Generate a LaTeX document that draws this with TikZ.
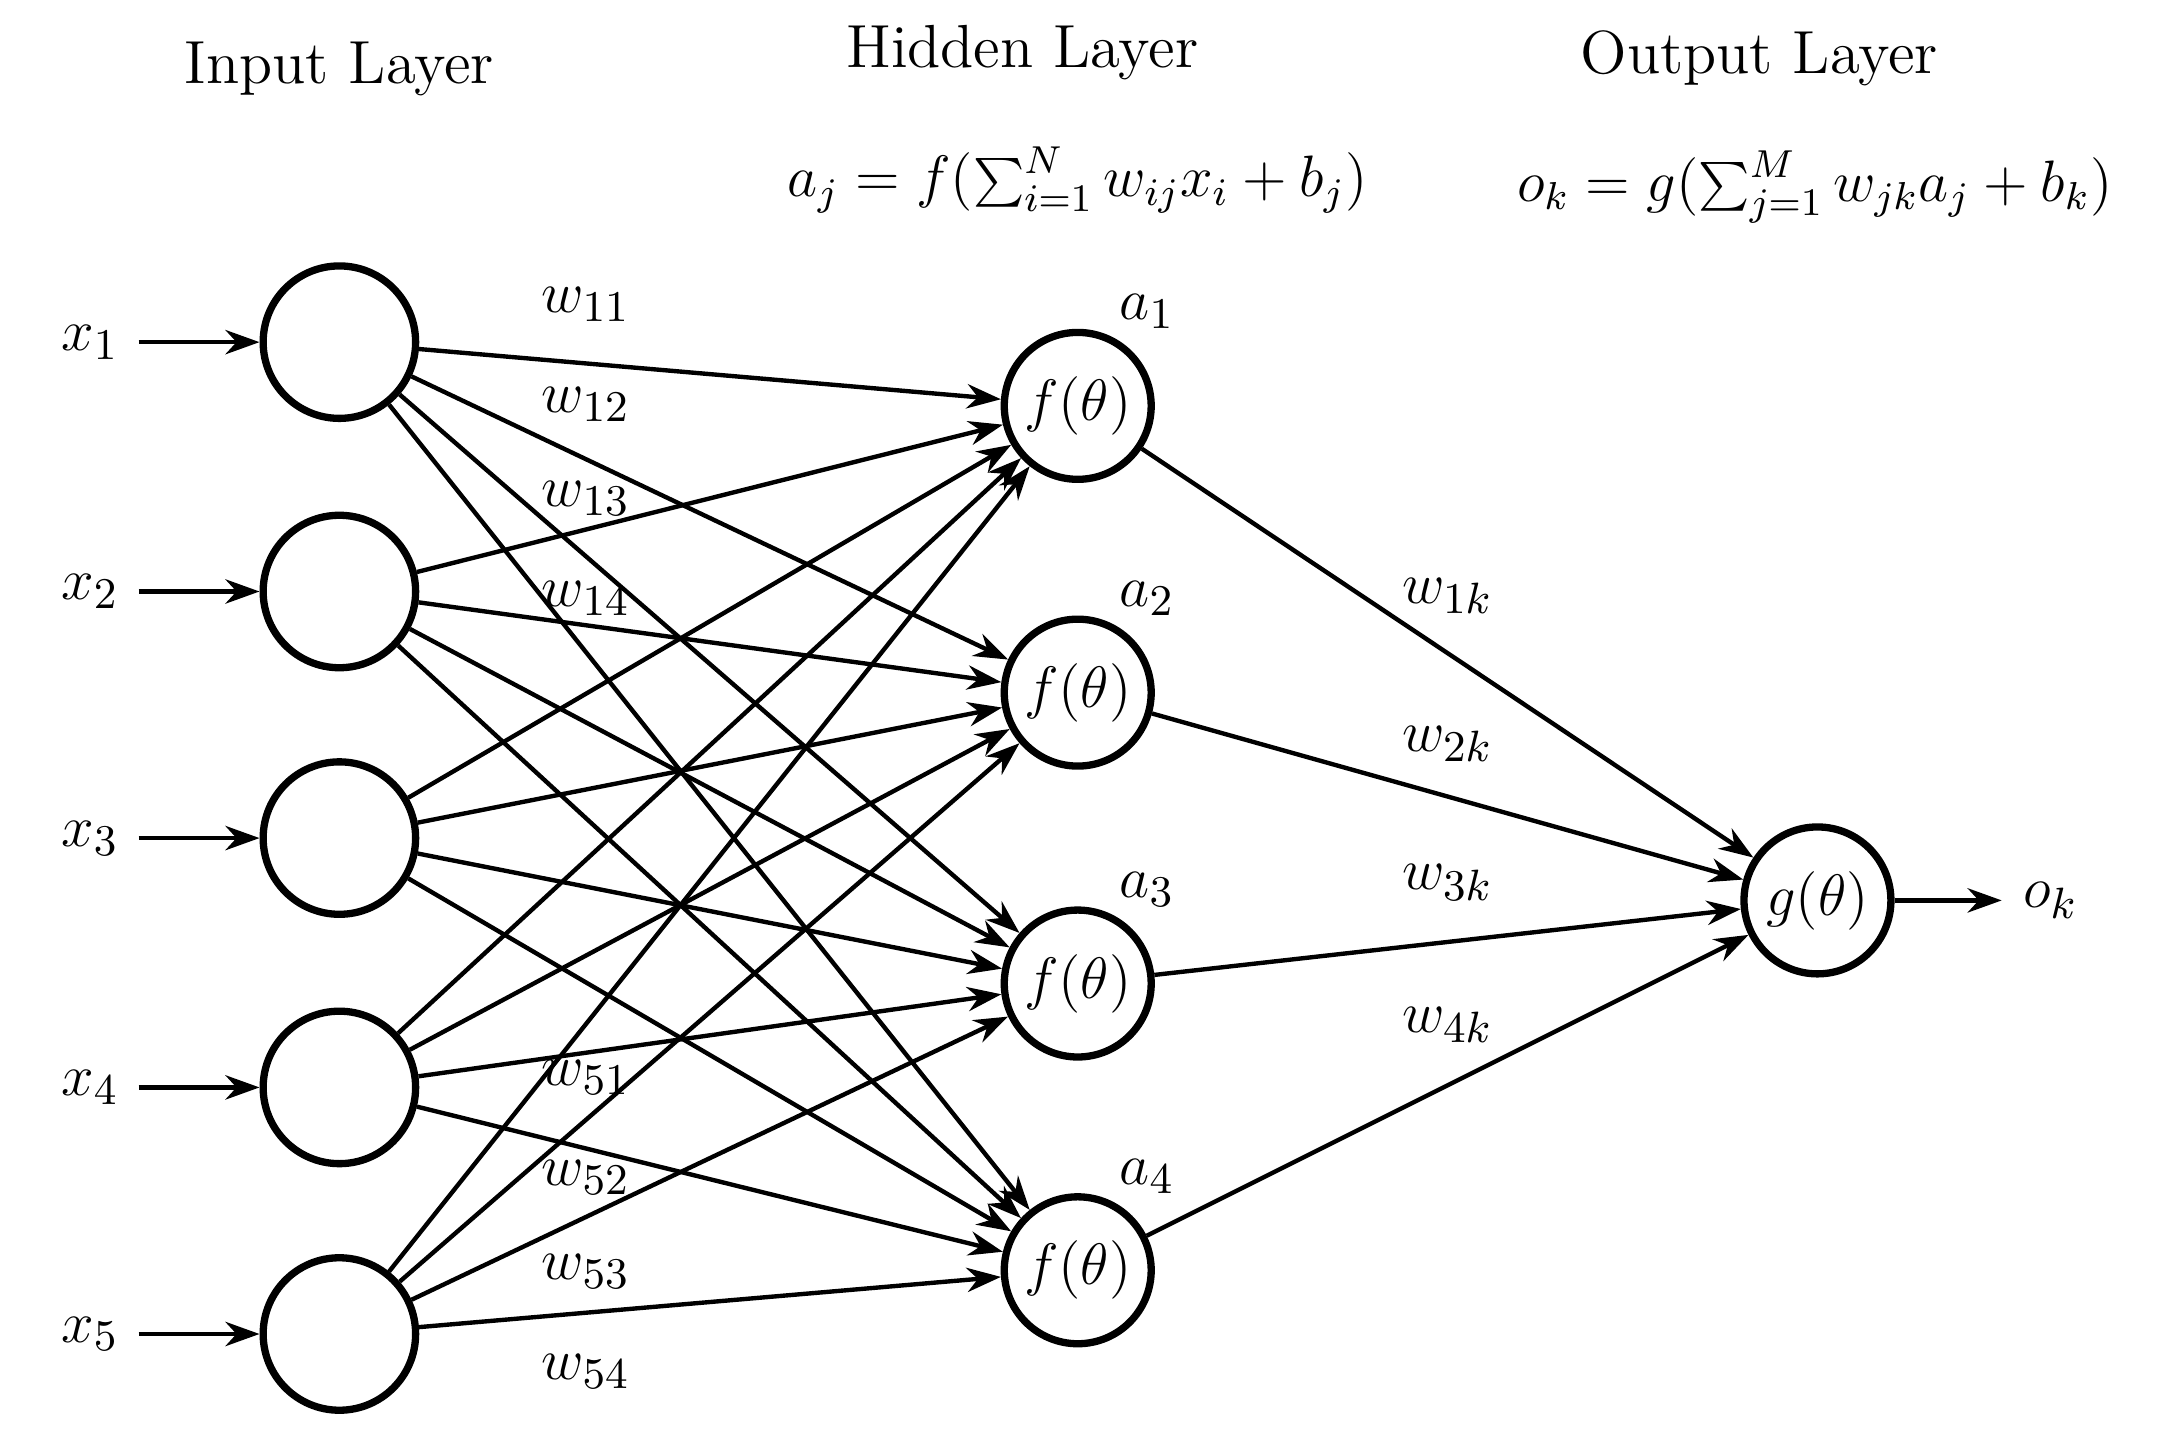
\documentclass[tikz,border=0pt]{standalone}
\usetikzlibrary{arrows.meta}
\begin{document}
\begin{tikzpicture}[x=0.01cm,y=-0.01cm,
  neu/.style={circle,draw,line width=1.5pt,minimum size=1.06cm,inner sep=0pt,font=\fontsize{12.5}{15}\selectfont},
  con/.style={line width=0.9pt,-{Stealth[length=7pt,width=5pt]}},
  lab/.style={font=\fontsize{13}{15}\selectfont},
  ttl/.style={font=\fontsize{12.5}{15}\selectfont}]
\useasboundingbox (0,0) rectangle (1560,1040);
\foreach \i/\y in {1/247,2/427,3/605,4/785,5/963}{
  \node[neu,minimum size=1.1cm] (i\i) at (245,\y) {};
  \node[lab] (x\i) at (65,\y) {$x_{\i}$};
  \coordinate (s\i) at (100,\y);
  \draw[con] (s\i) -- (i\i);
}
\foreach \j/\y in {1/293,2/500,3/710,4/917}{
  \node[neu] (h\j) at (778,\y) {$f(\theta)$};
  \node[lab] (al\j) at (828,\y-68) {$a_{\j}$};
}
\node[neu] (o) at (1312,650) {$g(\theta)$};
\coordinate (oe) at (1445,650);
\node[lab,anchor=west] (ol) at (1448,650) {$o_k$};
\draw[con] (o) -- (oe);
\foreach \i in {1,...,5}{\foreach \j in {1,...,4}{\draw[con] (i\i) -- (h\j);}}
\foreach \j in {1,...,4}{\draw[con] (h\j) -- (o);}
\node[lab] (w11) at (423,220) {$w_{11}$};
\node[lab] (w12) at (423,292) {$w_{12}$};
\node[lab] (w13) at (423,360) {$w_{13}$};
\node[lab] (w14) at (423,432) {$w_{14}$};
\node[lab] (w51) at (423,778) {$w_{51}$};
\node[lab] (w52) at (423,850) {$w_{52}$};
\node[lab] (w53) at (423,918) {$w_{53}$};
\node[lab] (w54) at (423,990) {$w_{54}$};
\node[lab] (w1k) at (1045,430) {$w_{1k}$};
\node[lab] (w2k) at (1045,537) {$w_{2k}$};
\node[lab] (w3k) at (1045,637) {$w_{3k}$};
\node[lab] (w4k) at (1045,740) {$w_{4k}$};
\node[ttl] (t1) at (245,50) {Input Layer};
\node[ttl] (t2) at (738,38) {Hidden Layer};
\node[ttl] (t3) at (1270,42) {Output Layer};
\node[lab,font=\fontsize{12}{14}\selectfont] (f1) at (778,130) {$a_j=f(\sum_{i=1}^{N}w_{ij}x_i+b_j)$};
\node[lab,font=\fontsize{12}{14}\selectfont] (f2) at (1310,135) {$o_k=g(\sum_{j=1}^{M}w_{jk}a_j+b_k)$};
\end{tikzpicture}
\end{document}
